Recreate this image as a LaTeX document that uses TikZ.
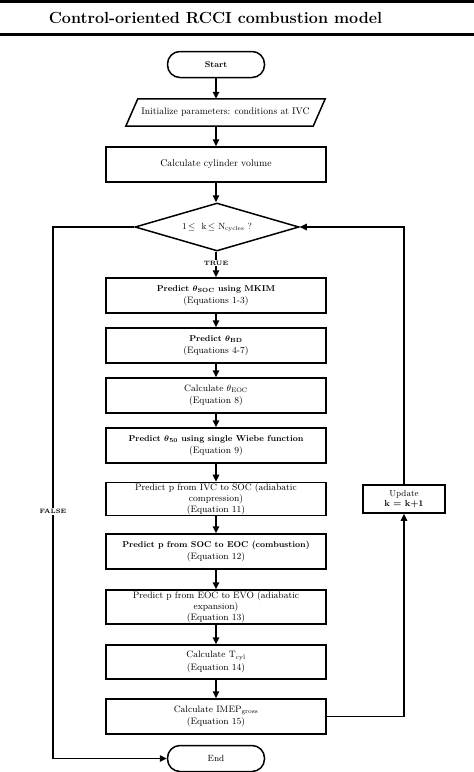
\documentclass[tikz,border=0pt]{standalone}
\usepackage{amsmath}
\usetikzlibrary{arrows.meta,shapes.geometric}
\newcommand{\bl}[1]{{\fontsize{8.5}{12}\selectfont\bfseries #1}}
\begin{document}
\begin{tikzpicture}[x=1pt,y=-1pt,
  lin/.style={line width=1.5pt},
  box/.style={draw,lin,minimum width=220pt,minimum height=35pt,align=center,inner sep=1pt,font=\fontsize{9.3}{12.5}\selectfont},
  tightbox/.style={box,font=\fontsize{9.3}{11}\selectfont},
  term/.style={draw,lin,rounded corners=12.5pt,minimum width=97pt,minimum height=26pt,inner sep=1pt,font=\fontsize{9}{10}\selectfont},
  arr/.style={lin,-{Triangle[length=7pt,width=6.5pt]}},
  lab/.style={fill=white,inner sep=1pt,font=\fontsize{6.3}{7}\selectfont\bfseries}]
\useasboundingbox (0,0) rectangle (474,772);
% title rules
\draw[line width=3pt] (0,1.5) -- (474,1.5);
\draw[line width=3pt] (0,34.5) -- (474,34.5);
\node[font=\fontsize{16.1}{18}\selectfont\bfseries] (title) at (215.5,18) {Control-oriented RCCI combustion model};
% nodes
\node[term,font=\fontsize{8.5}{10}\selectfont\bfseries] (start) at (216,64.5) {Start};
\node[minimum width=187pt,minimum height=27pt,inner sep=0,font=\fontsize{9.6}{10}\selectfont] (init) at (225.5,112.5) {Initialize parameters: conditions at IVC};
\draw[lin] ([xshift=-6pt]init.south west) -- ([xshift=6pt]init.north west) -- ([xshift=6pt]init.north east) -- ([xshift=-6pt]init.south east) -- cycle;
\node[box,font=\fontsize{9.8}{12}\selectfont] (vol) at (216,164.5) {Calculate cylinder volume};
\node[diamond,draw,lin,aspect=3.4,minimum width=164pt,minimum height=48pt,inner sep=0,font=\fontsize{9}{10}\selectfont] (dec) at (217,227) {1\,$\le$\ \ k\,$\le$ N\textsubscript{cycles} ?};
\node[box] (b1) at (216,295.5) {\bl{Predict $\boldsymbol{\theta}$\textsubscript{SOC} using MKIM}\\(Equations 1-3)};
\node[box] (b2) at (216,345.5) {\bl{Predict $\boldsymbol{\theta}$\textsubscript{BD}}\\(Equations 4-7)};
\node[box] (b3) at (216,395.5) {Calculate $\theta$\textsubscript{EOC}\\(Equation 8)};
\node[box] (b4) at (216,445.5) {\bl{Predict $\boldsymbol{\theta}$\textsubscript{50} using single Wiebe function}\\(Equation 9)};
\node[tightbox,minimum height=28pt] (b5) at (216,499) {Predict p from IVC to SOC (adiabatic\\compression)\\(Equation 11)};
\node[box] (b6) at (216,551.5) {\bl{Predict p from SOC to EOC (combustion)}\\(Equation 12)};
\node[tightbox,minimum height=34pt] (b7) at (216,607) {Predict p from EOC to EVO (adiabatic\\expansion)\\(Equation 13)};
\node[box,minimum height=34pt] (b8) at (216,662) {Calculate T\textsubscript{cyl}\\(Equation 14)};
\node[box] (b9) at (216,716.5) {Calculate IMEP\textsubscript{gross}\\(Equation 15)};
\node[term] (end) at (216,758.5) {End};
\node[box,minimum width=82pt,minimum height=28pt,font=\fontsize{8.8}{10.5}\selectfont] (upd) at (404,499) {Update\\\textbf{k = k+1}};
% connectors
\draw[arr] (start.south) -- (start.south |- init.north);
\draw[arr] (start.south |- init.south) -- (vol.north);
\draw[arr] (vol.south) -- (vol.south |- dec.north);
\draw[arr] (dec.south -| b1.north) -- node[lab,pos=0.45] (true) {TRUE} (b1.north);
\draw[arr] (b1) -- (b2);
\draw[arr] (b2) -- (b3);
\draw[arr] (b3) -- (b4);
\draw[arr] (b4) -- (b5);
\draw[arr] (b5) -- (b6);
\draw[arr] (b6) -- (b7);
\draw[arr] (b7) -- (b8);
\draw[arr] (b8) -- (b9);
\coordinate (fl) at (53,227);
\draw[arr] (dec.west) -- (fl) -- node[lab,pos=0.535] (false) {FALSE} (fl |- end.west) -- (end.west);
\draw[arr] (b9.east) -- (b9.east -| upd.south) -- (upd.south);
\draw[arr] (upd.north) -- (upd.north |- dec.east) -- (dec.east);
\end{tikzpicture}
\end{document}
